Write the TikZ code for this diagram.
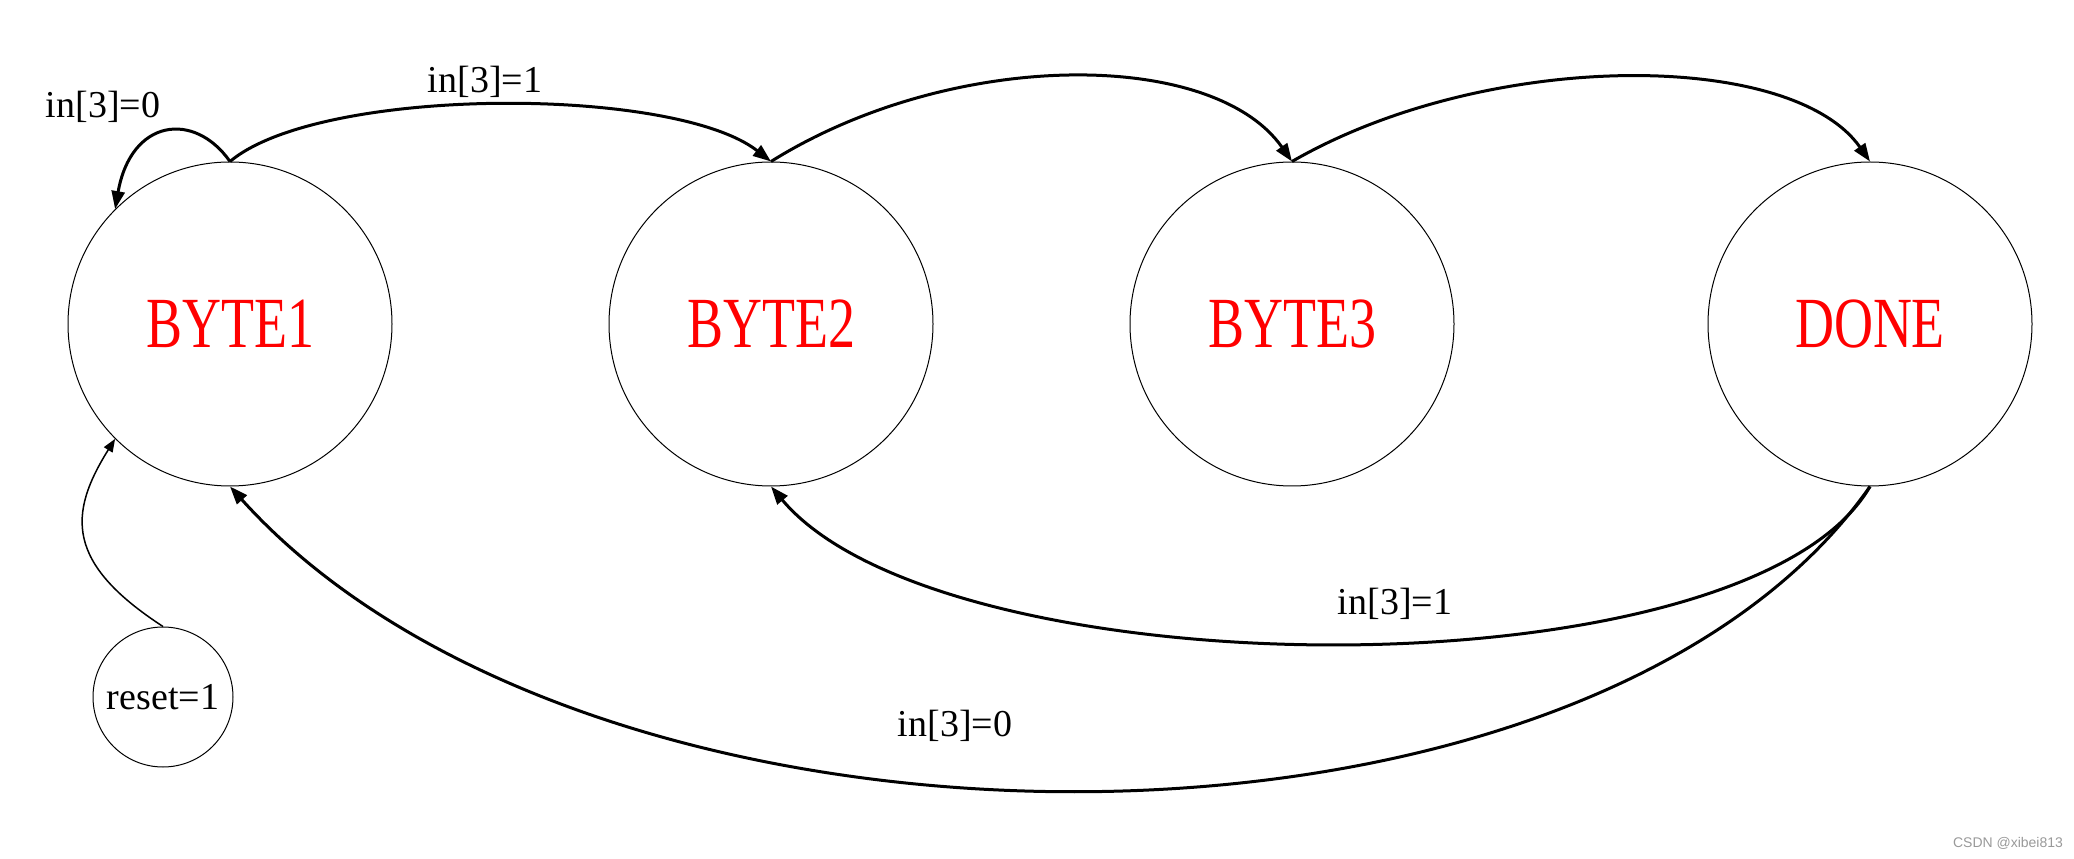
\documentclass[tikz,border=0pt]{standalone}
\usepackage{fontspec}
\setmainfont{Liberation Serif}
\setsansfont{Liberation Sans}
\usetikzlibrary{arrows.meta}
\newlength{\du}
\setlength{\du}{0.5pt}
\definecolor{statecolor}{rgb}{1.000000, 0.000000, 0.000000}
\definecolor{markcolor}{rgb}{0.600000, 0.600000, 0.600000}
\tikzset{
  state/.style={draw, circle, line width=0.5pt, inner sep=0pt, minimum size=324\du,
    text=statecolor, font=\fontsize{36}{40}\selectfont},
  resetstate/.style={draw, circle, line width=0.5pt, inner sep=0pt, minimum size=140\du,
    font=\fontsize{19}{22}\selectfont},
  trans/.style={line width=1.5pt, -{Triangle[length=9pt,width=6.5pt]}},
  resettrans/.style={line width=0.75pt, -{Triangle[length=6.5pt,width=5pt]}},
  cond/.style={inner sep=0pt, font=\fontsize{19}{22}\selectfont},
}
\begin{document}
\begin{tikzpicture}
\useasboundingbox (0\du,0\du) rectangle (2074\du,858\du);
% states
\node[state] (byte1) at (230\du,534\du){\scalebox{0.75}[1]{BYTE1}};
\node[state] (byte2) at (771\du,534\du){\scalebox{0.75}[1]{BYTE2}};
\node[state] (byte3) at (1292\du,534\du){\scalebox{0.75}[1]{BYTE3}};
\node[state] (done) at (1870\du,534\du){\scalebox{0.75}[1]{DONE}};
\node[resetstate] (rst) at (163\du,161\du){reset=1};
% transitions
\draw[trans] (byte1.north) .. controls +(125:62\du) and +(80:92\du) .. (byte1.135);
\draw[trans] (byte1.north) .. controls +(40:118\du) and +(142:123\du) .. (byte2.north);
\draw[trans] (byte2.north) .. controls +(32:213\du) and +(125:138\du) .. (byte3.north);
\draw[trans] (byte3.north) .. controls +(30:224\du) and +(125:137\du) .. (done.north);
\draw[trans] (done.south) .. controls +(-120:244\du) and +(-50:270\du) .. (byte2.south);
\draw[trans] (done.south) .. controls +(-125:494\du) and +(-48:545\du) .. (byte1.south);
\draw[resettrans] (rst.north) .. controls +(147:117\du) and +(-122:88\du) .. (byte1.225);
% conditions
\node[cond] (c11) at (103\du,751\du){in[3]=0};
\node[cond] (c12) at (485\du,776\du){in[3]=1};
\node[cond] (c42) at (1395\du,254\du){in[3]=1};
\node[cond] (c41) at (955\du,132\du){in[3]=0};
\node[inner sep=0pt, text=markcolor, font=\sffamily\fontsize{7}{8}\selectfont] (mark) at (2008\du,15\du){CSDN @xibei813};
\end{tikzpicture}
\end{document}
